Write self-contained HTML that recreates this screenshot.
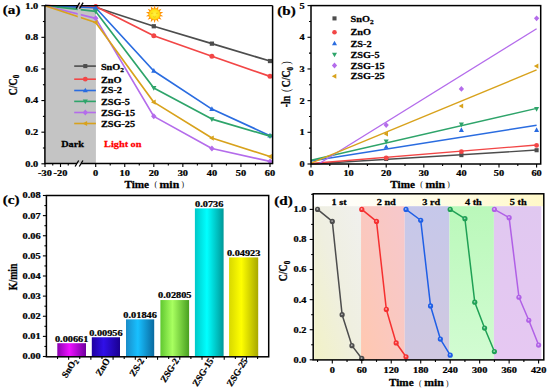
<!DOCTYPE html>
<html><head><meta charset="utf-8"><style>
html,body{margin:0;padding:0;background:#fff;}
svg{display:block;font-family:"Liberation Serif", serif;}
</style></head><body>
<svg width="550" height="391" viewBox="0 0 550 391">
<defs><radialGradient id="sung" cx="0.5" cy="0.5" r="0.5"><stop offset="0" stop-color="#fff04a"/><stop offset="0.7" stop-color="#ffe414"/><stop offset="0.88" stop-color="#ffc814"/><stop offset="1" stop-color="#ffa010"/></radialGradient><linearGradient id="g0" x1="0" x2="1" y1="0" y2="0"><stop offset="0" stop-color="#8a00b0"/><stop offset="0.42" stop-color="#ee10ff"/><stop offset="1" stop-color="#7000a0"/></linearGradient><linearGradient id="g1" x1="0" x2="1" y1="0" y2="0"><stop offset="0" stop-color="#2000a0"/><stop offset="0.42" stop-color="#3010e8"/><stop offset="1" stop-color="#1a0090"/></linearGradient><linearGradient id="g2" x1="0" x2="1" y1="0" y2="0"><stop offset="0" stop-color="#1a8cc8"/><stop offset="0.42" stop-color="#18c0ff"/><stop offset="1" stop-color="#0a6aa0"/></linearGradient><linearGradient id="g3" x1="0" x2="1" y1="0" y2="0"><stop offset="0" stop-color="#60c830"/><stop offset="0.42" stop-color="#a8ff60"/><stop offset="1" stop-color="#48a020"/></linearGradient><linearGradient id="g4" x1="0" x2="1" y1="0" y2="0"><stop offset="0" stop-color="#00c8c8"/><stop offset="0.42" stop-color="#00ffff"/><stop offset="1" stop-color="#009898"/></linearGradient><linearGradient id="g5" x1="0" x2="1" y1="0" y2="0"><stop offset="0" stop-color="#d8d800"/><stop offset="0.42" stop-color="#ffff00"/><stop offset="1" stop-color="#a8a800"/></linearGradient><linearGradient id="r1" x1="1" x2="0" y1="0" y2="1"><stop offset="0" stop-color="#f0f0ee"/><stop offset="0.5" stop-color="#efefe0"/><stop offset="1" stop-color="#f2f2c6"/></linearGradient><linearGradient id="r2" x1="1" x2="0" y1="0" y2="1"><stop offset="0" stop-color="#f6c8cc"/><stop offset="0.5" stop-color="#fac8c0"/><stop offset="1" stop-color="#ffc8b0"/></linearGradient><linearGradient id="r3" x1="0" x2="0" y1="0" y2="1"><stop offset="0" stop-color="#c6c8ea"/><stop offset="1" stop-color="#d0c8e0"/></linearGradient><linearGradient id="r4" x1="0" x2="0" y1="0" y2="1"><stop offset="0" stop-color="#baf8ba"/><stop offset="1" stop-color="#d2fcd2"/></linearGradient><linearGradient id="r5" x1="0" x2="0" y1="0" y2="1"><stop offset="0" stop-color="#e0c8f0"/><stop offset="1" stop-color="#e6c8f2"/></linearGradient><linearGradient id="top" x1="0" x2="1" y1="0" y2="0"><stop offset="0" stop-color="#ffffff"/><stop offset="0.35" stop-color="#fffdf0"/><stop offset="0.7" stop-color="#fffbdc"/><stop offset="1" stop-color="#fff8c8"/></linearGradient><radialGradient id="ball" cx="0.4" cy="0.4" r="0.6"><stop offset="0" stop-color="#fff" stop-opacity="0.85"/><stop offset="1" stop-color="#fff" stop-opacity="0.1"/></radialGradient></defs>
<rect width="550" height="391" fill="#fff"/>
<rect x="44.9" y="5.6" width="51.00000000000001" height="157.9" fill="#c4c4c4"/>
<polyline points="45,5.7 95.7,7.28 153.8,26.25 211.9,43.64 270,61.03" fill="none" stroke="#4d4d4d" stroke-width="1.7" stroke-linejoin="round"/>
<rect x="93.58" y="5.16" width="4.25" height="4.25" fill="#4d4d4d"/>
<rect x="151.68" y="24.13" width="4.25" height="4.25" fill="#4d4d4d"/>
<rect x="209.77" y="41.52" width="4.25" height="4.25" fill="#4d4d4d"/>
<rect x="267.88" y="58.91" width="4.25" height="4.25" fill="#4d4d4d"/>
<polyline points="45,5.7 95.7,6.49 153.8,35.74 211.9,56.29 270,76.37" fill="none" stroke="#f24646" stroke-width="1.7" stroke-linejoin="round"/>
<circle cx="95.7" cy="6.49" r="2.5" fill="#f24646"/>
<circle cx="153.8" cy="35.74" r="2.5" fill="#f24646"/>
<circle cx="211.9" cy="56.29" r="2.5" fill="#f24646"/>
<circle cx="270" cy="76.37" r="2.5" fill="#f24646"/>
<polyline points="45,5.7 95.7,7.76 153.8,71 211.9,109.1 270,135.66" fill="none" stroke="#2a6ce0" stroke-width="1.7" stroke-linejoin="round"/>
<polygon points="95.7,4.88 98.33,9.63 93.08,9.63" fill="#2a6ce0"/>
<polygon points="153.8,68.12 156.43,72.87 151.18,72.87" fill="#2a6ce0"/>
<polygon points="211.9,106.22 214.52,110.97 209.27,110.97" fill="#2a6ce0"/>
<polygon points="270,132.78 272.62,137.53 267.38,137.53" fill="#2a6ce0"/>
<polyline points="45,5.7 95.7,11.39 153.8,87.91 211.9,119.06 270,136.13" fill="none" stroke="#2ea46a" stroke-width="1.7" stroke-linejoin="round"/>
<polygon points="95.7,14.27 98.33,9.52 93.08,9.52" fill="#2ea46a"/>
<polygon points="153.8,90.79 156.43,86.04 151.18,86.04" fill="#2ea46a"/>
<polygon points="211.9,121.93 214.52,117.18 209.27,117.18" fill="#2ea46a"/>
<polygon points="270,139.01 272.62,134.26 267.38,134.26" fill="#2ea46a"/>
<polyline points="45,5.7 95.7,18.35 153.8,116.37 211.9,148.46 270,161.43" fill="none" stroke="#b46ceb" stroke-width="1.7" stroke-linejoin="round"/>
<polygon points="95.7,15.35 98.45,18.35 95.7,21.35 92.95,18.35" fill="#b46ceb"/>
<polygon points="153.8,113.37 156.55,116.37 153.8,119.37 151.05,116.37" fill="#b46ceb"/>
<polygon points="211.9,145.46 214.65,148.46 211.9,151.46 209.15,148.46" fill="#b46ceb"/>
<polygon points="270,158.43 272.75,161.43 270,164.43 267.25,161.43" fill="#b46ceb"/>
<polyline points="45,5.7 95.7,22.46 153.8,102.14 211.9,138.03 270,156.53" fill="none" stroke="#d8a21c" stroke-width="1.7" stroke-linejoin="round"/>
<polygon points="92.83,22.46 97.58,19.83 97.58,25.08" fill="#d8a21c"/>
<polygon points="150.93,102.14 155.68,99.52 155.68,104.77" fill="#d8a21c"/>
<polygon points="209.02,138.03 213.77,135.4 213.77,140.65" fill="#d8a21c"/>
<polygon points="267.12,156.53 271.88,153.9 271.88,159.15" fill="#d8a21c"/>
<polygon points="77.6,6.4 80.6,6.4 80.9,24 77.9,24" fill="#c4c4c4"/>
<line x1="44.9" y1="5.6" x2="78" y2="5.6" stroke="#000" stroke-width="1.3" />
<line x1="81.3" y1="5.6" x2="272.6" y2="5.6" stroke="#000" stroke-width="1.3" />
<line x1="272.6" y1="5.6" x2="272.6" y2="164.2" stroke="#000" stroke-width="1.5" />
<line x1="44.9" y1="4.9" x2="44.9" y2="164.2" stroke="#000" stroke-width="1.5" />
<line x1="44.9" y1="163.5" x2="77" y2="163.5" stroke="#000" stroke-width="1.5" />
<line x1="81" y1="163.5" x2="272.6" y2="163.5" stroke="#000" stroke-width="1.5" />
<line x1="75.1" y1="166.5" x2="78.7" y2="160.5" stroke="#000" stroke-width="1.3" />
<line x1="79.3" y1="166.5" x2="82.9" y2="160.5" stroke="#000" stroke-width="1.3" />
<line x1="76.1" y1="8.6" x2="79.7" y2="2.6" stroke="#000" stroke-width="1.3" />
<line x1="79.5" y1="8.6" x2="83.1" y2="2.6" stroke="#000" stroke-width="1.3" />
<line x1="41.4" y1="163.8" x2="44.9" y2="163.8" stroke="#000" stroke-width="1.1" />
<text transform="translate(38.2,166.7) scale(1.2,1)" font-size="8.6" text-anchor="end" fill="#000" font-weight="bold" stroke="#000" stroke-width="0.25">0.0</text>
<line x1="42.9" y1="147.99" x2="44.9" y2="147.99" stroke="#000" stroke-width="1.1" />
<line x1="41.4" y1="132.18" x2="44.9" y2="132.18" stroke="#000" stroke-width="1.1" />
<text transform="translate(38.2,135.08) scale(1.2,1)" font-size="8.6" text-anchor="end" fill="#000" font-weight="bold" stroke="#000" stroke-width="0.25">0.2</text>
<line x1="42.9" y1="116.37" x2="44.9" y2="116.37" stroke="#000" stroke-width="1.1" />
<line x1="41.4" y1="100.56" x2="44.9" y2="100.56" stroke="#000" stroke-width="1.1" />
<text transform="translate(38.2,103.46) scale(1.2,1)" font-size="8.6" text-anchor="end" fill="#000" font-weight="bold" stroke="#000" stroke-width="0.25">0.4</text>
<line x1="42.9" y1="84.75" x2="44.9" y2="84.75" stroke="#000" stroke-width="1.1" />
<line x1="41.4" y1="68.94" x2="44.9" y2="68.94" stroke="#000" stroke-width="1.1" />
<text transform="translate(38.2,71.84) scale(1.2,1)" font-size="8.6" text-anchor="end" fill="#000" font-weight="bold" stroke="#000" stroke-width="0.25">0.6</text>
<line x1="42.9" y1="53.13" x2="44.9" y2="53.13" stroke="#000" stroke-width="1.1" />
<line x1="41.4" y1="37.32" x2="44.9" y2="37.32" stroke="#000" stroke-width="1.1" />
<text transform="translate(38.2,40.22) scale(1.2,1)" font-size="8.6" text-anchor="end" fill="#000" font-weight="bold" stroke="#000" stroke-width="0.25">0.8</text>
<line x1="42.9" y1="21.51" x2="44.9" y2="21.51" stroke="#000" stroke-width="1.1" />
<line x1="41.4" y1="5.7" x2="44.9" y2="5.7" stroke="#000" stroke-width="1.1" />
<text transform="translate(38.2,8.6) scale(1.2,1)" font-size="8.6" text-anchor="end" fill="#000" font-weight="bold" stroke="#000" stroke-width="0.25">1.0</text>
<line x1="45" y1="163.5" x2="45" y2="167" stroke="#000" stroke-width="1.1" />
<text transform="translate(45,175.8) scale(1.2,1)" font-size="8.6" text-anchor="middle" fill="#000" font-weight="bold" stroke="#000" stroke-width="0.25">-30</text>
<line x1="60.5" y1="163.5" x2="60.5" y2="167" stroke="#000" stroke-width="1.1" />
<text transform="translate(60.5,175.8) scale(1.2,1)" font-size="8.6" text-anchor="middle" fill="#000" font-weight="bold" stroke="#000" stroke-width="0.25">-20</text>
<line x1="95.7" y1="163.5" x2="95.7" y2="167" stroke="#000" stroke-width="1.1" />
<text transform="translate(95.7,175.8) scale(1.2,1)" font-size="8.6" text-anchor="middle" fill="#000" font-weight="bold" stroke="#000" stroke-width="0.25">0</text>
<line x1="124.75" y1="163.5" x2="124.75" y2="167" stroke="#000" stroke-width="1.1" />
<text transform="translate(124.75,175.8) scale(1.2,1)" font-size="8.6" text-anchor="middle" fill="#000" font-weight="bold" stroke="#000" stroke-width="0.25">10</text>
<line x1="153.8" y1="163.5" x2="153.8" y2="167" stroke="#000" stroke-width="1.1" />
<text transform="translate(153.8,175.8) scale(1.2,1)" font-size="8.6" text-anchor="middle" fill="#000" font-weight="bold" stroke="#000" stroke-width="0.25">20</text>
<line x1="182.85" y1="163.5" x2="182.85" y2="167" stroke="#000" stroke-width="1.1" />
<text transform="translate(182.85,175.8) scale(1.2,1)" font-size="8.6" text-anchor="middle" fill="#000" font-weight="bold" stroke="#000" stroke-width="0.25">30</text>
<line x1="211.9" y1="163.5" x2="211.9" y2="167" stroke="#000" stroke-width="1.1" />
<text transform="translate(211.9,175.8) scale(1.2,1)" font-size="8.6" text-anchor="middle" fill="#000" font-weight="bold" stroke="#000" stroke-width="0.25">40</text>
<line x1="240.95" y1="163.5" x2="240.95" y2="167" stroke="#000" stroke-width="1.1" />
<text transform="translate(240.95,175.8) scale(1.2,1)" font-size="8.6" text-anchor="middle" fill="#000" font-weight="bold" stroke="#000" stroke-width="0.25">50</text>
<line x1="270" y1="163.5" x2="270" y2="167" stroke="#000" stroke-width="1.1" />
<text transform="translate(270,175.8) scale(1.2,1)" font-size="8.6" text-anchor="middle" fill="#000" font-weight="bold" stroke="#000" stroke-width="0.25">60</text>
<line x1="52.75" y1="163.5" x2="52.75" y2="165.5" stroke="#000" stroke-width="1.1" />
<line x1="68.25" y1="163.5" x2="68.25" y2="165.5" stroke="#000" stroke-width="1.1" />
<line x1="110.22" y1="163.5" x2="110.22" y2="165.5" stroke="#000" stroke-width="1.1" />
<line x1="139.28" y1="163.5" x2="139.28" y2="165.5" stroke="#000" stroke-width="1.1" />
<line x1="168.32" y1="163.5" x2="168.32" y2="165.5" stroke="#000" stroke-width="1.1" />
<line x1="197.38" y1="163.5" x2="197.38" y2="165.5" stroke="#000" stroke-width="1.1" />
<line x1="226.43" y1="163.5" x2="226.43" y2="165.5" stroke="#000" stroke-width="1.1" />
<line x1="255.47" y1="163.5" x2="255.47" y2="165.5" stroke="#000" stroke-width="1.1" />
<text transform="translate(17,95.2) scale(1.2,1) rotate(-90)" font-size="9.8" text-anchor="start" fill="#000" font-weight="bold" stroke="#000" stroke-width="0.25">C/C<tspan font-size="0.7em" dy="2">0</tspan></text>
<text transform="translate(124.4,188.1) scale(1.19,1)" font-size="9.4" text-anchor="start" fill="#000" font-weight="bold" stroke="#000" stroke-width="0.25">Time</text>
<text transform="translate(154.4,187.3) scale(1.0,1)" font-size="7.6" text-anchor="start" fill="#000" font-weight="normal">(</text>
<text transform="translate(159.6,188.1) scale(1.25,1)" font-size="9.4" text-anchor="start" fill="#000" font-weight="bold" stroke="#000" stroke-width="0.25">min</text>
<text transform="translate(181.4,187.3) scale(1.0,1)" font-size="7.6" text-anchor="start" fill="#000" font-weight="normal">)</text>
<text transform="translate(2.8,13.9) scale(1.12,1)" font-size="13.5" text-anchor="start" fill="#000" font-weight="bold" stroke="#000" stroke-width="0.25">(a)</text>
<text transform="translate(61.2,147.3) scale(1.13,1)" font-size="9.1" text-anchor="start" fill="#000" font-weight="bold" stroke="#000" stroke-width="0.25">Dark</text>
<text transform="translate(104.1,147.3) scale(1.13,1)" font-size="9.1" text-anchor="start" fill="#ff0000" font-weight="bold" stroke="#ff0000" stroke-width="0.25">Light on</text>
<line x1="74.2" y1="66.1" x2="95.9" y2="66.1" stroke="#4d4d4d" stroke-width="1.6" />
<rect x="83.26" y="64.06" width="4.08" height="4.08" fill="#4d4d4d"/>
<text transform="translate(100.9,69.7) scale(1.13,1)" font-size="9.1" text-anchor="start" fill="#000" font-weight="bold" stroke="#000" stroke-width="0.25">SnO<tspan font-size="0.72em" dy="2">2</tspan></text>
<line x1="74.2" y1="79.2" x2="95.9" y2="79.2" stroke="#f24646" stroke-width="1.6" />
<circle cx="85.3" cy="79.2" r="2.4" fill="#f24646"/>
<text transform="translate(100.9,82.6) scale(1.13,1)" font-size="9.1" text-anchor="start" fill="#000" font-weight="bold" stroke="#000" stroke-width="0.25">ZnO</text>
<line x1="74.2" y1="90.5" x2="95.9" y2="90.5" stroke="#2a6ce0" stroke-width="1.6" />
<polygon points="85.3,87.74 87.82,92.3 82.78,92.3" fill="#2a6ce0"/>
<text transform="translate(100.9,93.4) scale(1.13,1)" font-size="9.1" text-anchor="start" fill="#000" font-weight="bold" stroke="#000" stroke-width="0.25">ZS-2</text>
<line x1="74.2" y1="101.4" x2="95.9" y2="101.4" stroke="#2ea46a" stroke-width="1.6" />
<polygon points="85.3,104.16 87.82,99.6 82.78,99.6" fill="#2ea46a"/>
<text transform="translate(100.9,104.5) scale(1.13,1)" font-size="9.1" text-anchor="start" fill="#000" font-weight="bold" stroke="#000" stroke-width="0.25">ZSG-5</text>
<line x1="74.2" y1="112.5" x2="95.9" y2="112.5" stroke="#b46ceb" stroke-width="1.6" />
<polygon points="85.3,109.62 87.94,112.5 85.3,115.38 82.66,112.5" fill="#b46ceb"/>
<text transform="translate(100.9,116) scale(1.13,1)" font-size="9.1" text-anchor="start" fill="#000" font-weight="bold" stroke="#000" stroke-width="0.25">ZSG-15</text>
<line x1="74.2" y1="123.5" x2="95.9" y2="123.5" stroke="#d8a21c" stroke-width="1.6" />
<polygon points="82.54,123.5 87.1,120.98 87.1,126.02" fill="#d8a21c"/>
<text transform="translate(100.9,126.8) scale(1.13,1)" font-size="9.1" text-anchor="start" fill="#000" font-weight="bold" stroke="#000" stroke-width="0.25">ZSG-25</text>
<polygon points="159.59,13.97 163.28,16.18 159,16.57" fill="#ff9000"/>
<polygon points="159.2,16.16 161.56,19.75 157.54,18.25" fill="#ff9000"/>
<polygon points="157.89,17.96 158.46,22.22 155.49,19.12" fill="#ff9000"/>
<polygon points="155.93,19.02 154.6,23.1 153.27,19.02" fill="#ff9000"/>
<polygon points="153.71,19.12 150.74,22.22 151.31,17.96" fill="#ff9000"/>
<polygon points="151.66,18.25 147.64,19.75 150,16.16" fill="#ff9000"/>
<polygon points="150.2,16.57 145.92,16.18 149.61,13.97" fill="#ff9000"/>
<polygon points="149.61,14.43 145.92,12.22 150.2,11.83" fill="#ff9000"/>
<polygon points="150,12.24 147.64,8.65 151.66,10.15" fill="#ff9000"/>
<polygon points="151.31,10.44 150.74,6.18 153.71,9.28" fill="#ff9000"/>
<polygon points="153.27,9.38 154.6,5.3 155.93,9.38" fill="#ff9000"/>
<polygon points="155.49,9.28 158.46,6.18 157.89,10.44" fill="#ff9000"/>
<polygon points="157.54,10.15 161.56,8.65 159.2,12.24" fill="#ff9000"/>
<polygon points="159,11.83 163.28,12.22 159.59,14.43" fill="#ff9000"/>
<circle cx="154.6" cy="14.2" r="5.9" fill="url(#sung)"/>
<path d="M151,13.6 q1.1,-1.2 2.2,0 M156,13.6 q1.1,-1.2 2.2,0 M153.1,16.6 q1.5,1.2 3,0" fill="none" stroke="#e8b010" stroke-width="0.6"/>
<line x1="311" y1="164" x2="536.6" y2="150.06" stroke="#4d4d4d" stroke-width="1.4" />
<line x1="311" y1="163.49" x2="536.6" y2="144.99" stroke="#f24646" stroke-width="1.4" />
<line x1="311" y1="160.99" x2="536.6" y2="125.22" stroke="#2a6ce0" stroke-width="1.4" />
<line x1="311" y1="160.29" x2="536.6" y2="108.34" stroke="#2ea46a" stroke-width="1.4" />
<line x1="318.52" y1="164" x2="536.6" y2="28.73" stroke="#b46ceb" stroke-width="1.4" />
<line x1="311" y1="163.05" x2="536.6" y2="69.91" stroke="#d8a21c" stroke-width="1.4" />
<rect x="384.16" y="156.95" width="4.08" height="4.08" fill="#4d4d4d"/>
<rect x="459.36" y="153.09" width="4.08" height="4.08" fill="#4d4d4d"/>
<rect x="534.56" y="148.18" width="4.08" height="4.08" fill="#4d4d4d"/>
<circle cx="386.2" cy="157.98" r="2.4" fill="#f24646"/>
<circle cx="461.4" cy="151.64" r="2.4" fill="#f24646"/>
<circle cx="536.6" cy="145.4" r="2.4" fill="#f24646"/>
<polygon points="386.2,144.26 388.72,148.82 383.68,148.82" fill="#2a6ce0"/>
<polygon points="461.4,127.34 463.92,131.9 458.88,131.9" fill="#2a6ce0"/>
<polygon points="536.6,127.34 539.12,131.9 534.08,131.9" fill="#2a6ce0"/>
<polygon points="386.2,143.95 388.72,139.39 383.68,139.39" fill="#2ea46a"/>
<polygon points="461.4,127.16 463.92,122.6 458.88,122.6" fill="#2ea46a"/>
<polygon points="536.6,111.64 539.12,107.08 534.08,107.08" fill="#2ea46a"/>
<polygon points="386.2,122.15 388.84,125.03 386.2,127.91 383.56,125.03" fill="#b46ceb"/>
<polygon points="461.4,86.04 464.04,88.92 461.4,91.8 458.76,88.92" fill="#b46ceb"/>
<polygon points="536.6,15.39 539.24,18.27 536.6,21.15 533.96,18.27" fill="#b46ceb"/>
<polygon points="383.44,133.9 388,131.38 388,136.42" fill="#d8a21c"/>
<polygon points="458.64,106.03 463.2,103.51 463.2,108.55" fill="#d8a21c"/>
<polygon points="533.84,66.11 538.4,63.59 538.4,68.63" fill="#d8a21c"/>
<rect x="311" y="5.6" width="229.70000000000005" height="158.4" fill="none" stroke="#000" stroke-width="1.5"/>
<line x1="307.5" y1="164" x2="311" y2="164" stroke="#000" stroke-width="1.1" />
<text transform="translate(304.7,166.9) scale(1.2,1)" font-size="8.6" text-anchor="end" fill="#000" font-weight="bold" stroke="#000" stroke-width="0.25">0</text>
<line x1="309" y1="148.16" x2="311" y2="148.16" stroke="#000" stroke-width="1.1" />
<line x1="307.5" y1="132.32" x2="311" y2="132.32" stroke="#000" stroke-width="1.1" />
<text transform="translate(304.7,135.22) scale(1.2,1)" font-size="8.6" text-anchor="end" fill="#000" font-weight="bold" stroke="#000" stroke-width="0.25">1</text>
<line x1="309" y1="116.48" x2="311" y2="116.48" stroke="#000" stroke-width="1.1" />
<line x1="307.5" y1="100.64" x2="311" y2="100.64" stroke="#000" stroke-width="1.1" />
<text transform="translate(304.7,103.54) scale(1.2,1)" font-size="8.6" text-anchor="end" fill="#000" font-weight="bold" stroke="#000" stroke-width="0.25">2</text>
<line x1="309" y1="84.8" x2="311" y2="84.8" stroke="#000" stroke-width="1.1" />
<line x1="307.5" y1="68.96" x2="311" y2="68.96" stroke="#000" stroke-width="1.1" />
<text transform="translate(304.7,71.86) scale(1.2,1)" font-size="8.6" text-anchor="end" fill="#000" font-weight="bold" stroke="#000" stroke-width="0.25">3</text>
<line x1="309" y1="53.12" x2="311" y2="53.12" stroke="#000" stroke-width="1.1" />
<line x1="307.5" y1="37.28" x2="311" y2="37.28" stroke="#000" stroke-width="1.1" />
<text transform="translate(304.7,40.18) scale(1.2,1)" font-size="8.6" text-anchor="end" fill="#000" font-weight="bold" stroke="#000" stroke-width="0.25">4</text>
<line x1="309" y1="21.44" x2="311" y2="21.44" stroke="#000" stroke-width="1.1" />
<line x1="307.5" y1="5.6" x2="311" y2="5.6" stroke="#000" stroke-width="1.1" />
<text transform="translate(304.7,8.5) scale(1.2,1)" font-size="8.6" text-anchor="end" fill="#000" font-weight="bold" stroke="#000" stroke-width="0.25">5</text>
<line x1="311" y1="164" x2="311" y2="167.5" stroke="#000" stroke-width="1.1" />
<text transform="translate(311,176.2) scale(1.2,1)" font-size="8.6" text-anchor="middle" fill="#000" font-weight="bold" stroke="#000" stroke-width="0.25">0</text>
<line x1="329.8" y1="164" x2="329.8" y2="166" stroke="#000" stroke-width="1.1" />
<line x1="348.6" y1="164" x2="348.6" y2="167.5" stroke="#000" stroke-width="1.1" />
<text transform="translate(348.6,176.2) scale(1.2,1)" font-size="8.6" text-anchor="middle" fill="#000" font-weight="bold" stroke="#000" stroke-width="0.25">10</text>
<line x1="367.4" y1="164" x2="367.4" y2="166" stroke="#000" stroke-width="1.1" />
<line x1="386.2" y1="164" x2="386.2" y2="167.5" stroke="#000" stroke-width="1.1" />
<text transform="translate(386.2,176.2) scale(1.2,1)" font-size="8.6" text-anchor="middle" fill="#000" font-weight="bold" stroke="#000" stroke-width="0.25">20</text>
<line x1="405" y1="164" x2="405" y2="166" stroke="#000" stroke-width="1.1" />
<line x1="423.8" y1="164" x2="423.8" y2="167.5" stroke="#000" stroke-width="1.1" />
<text transform="translate(423.8,176.2) scale(1.2,1)" font-size="8.6" text-anchor="middle" fill="#000" font-weight="bold" stroke="#000" stroke-width="0.25">30</text>
<line x1="442.6" y1="164" x2="442.6" y2="166" stroke="#000" stroke-width="1.1" />
<line x1="461.4" y1="164" x2="461.4" y2="167.5" stroke="#000" stroke-width="1.1" />
<text transform="translate(461.4,176.2) scale(1.2,1)" font-size="8.6" text-anchor="middle" fill="#000" font-weight="bold" stroke="#000" stroke-width="0.25">40</text>
<line x1="480.2" y1="164" x2="480.2" y2="166" stroke="#000" stroke-width="1.1" />
<line x1="499" y1="164" x2="499" y2="167.5" stroke="#000" stroke-width="1.1" />
<text transform="translate(499,176.2) scale(1.2,1)" font-size="8.6" text-anchor="middle" fill="#000" font-weight="bold" stroke="#000" stroke-width="0.25">50</text>
<line x1="517.8" y1="164" x2="517.8" y2="166" stroke="#000" stroke-width="1.1" />
<line x1="536.6" y1="164" x2="536.6" y2="167.5" stroke="#000" stroke-width="1.1" />
<text transform="translate(536.6,176.2) scale(1.2,1)" font-size="8.6" text-anchor="middle" fill="#000" font-weight="bold" stroke="#000" stroke-width="0.25">60</text>
<text transform="translate(290.3,107.3) scale(1.2,1) rotate(-90)" font-size="9.8" text-anchor="start" fill="#000" font-weight="bold" stroke="#000" stroke-width="0.25">-ln<tspan font-weight="normal" stroke-width="0" dx="4">(</tspan><tspan dx="1.3">C/C</tspan><tspan font-size="0.7em" dy="2">0</tspan><tspan font-weight="normal" stroke-width="0" dy="-2" dx="2.6">)</tspan></text>
<text transform="translate(390.3,187.9) scale(1.19,1)" font-size="9.4" text-anchor="start" fill="#000" font-weight="bold" stroke="#000" stroke-width="0.25">Time</text>
<text transform="translate(420.3,187.1) scale(1.0,1)" font-size="7.6" text-anchor="start" fill="#000" font-weight="normal">(</text>
<text transform="translate(425.5,187.9) scale(1.25,1)" font-size="9.4" text-anchor="start" fill="#000" font-weight="bold" stroke="#000" stroke-width="0.25">min</text>
<text transform="translate(447.3,187.1) scale(1.0,1)" font-size="7.6" text-anchor="start" fill="#000" font-weight="normal">)</text>
<text transform="translate(277.3,15.2) scale(1.12,1)" font-size="13.5" text-anchor="start" fill="#000" font-weight="bold" stroke="#000" stroke-width="0.25">(b)</text>
<rect x="332.46" y="16.36" width="4.08" height="4.08" fill="#4d4d4d"/>
<text transform="translate(350.5,22.2) scale(1.13,1)" font-size="9.1" text-anchor="start" fill="#000" font-weight="bold" stroke="#000" stroke-width="0.25">SnO<tspan font-size="0.72em" dy="2">2</tspan></text>
<circle cx="334.5" cy="32.2" r="2.3" fill="#f24646"/>
<text transform="translate(350.5,35.2) scale(1.13,1)" font-size="9.1" text-anchor="start" fill="#000" font-weight="bold" stroke="#000" stroke-width="0.25">ZnO</text>
<polygon points="334.5,40.74 337.02,45.3 331.98,45.3" fill="#2a6ce0"/>
<text transform="translate(350.5,46.5) scale(1.13,1)" font-size="9.1" text-anchor="start" fill="#000" font-weight="bold" stroke="#000" stroke-width="0.25">ZS-2</text>
<polygon points="334.5,57.26 337.02,52.7 331.98,52.7" fill="#2ea46a"/>
<text transform="translate(350.5,57.5) scale(1.13,1)" font-size="9.1" text-anchor="start" fill="#000" font-weight="bold" stroke="#000" stroke-width="0.25">ZSG-5</text>
<polygon points="334.5,62.62 337.14,65.5 334.5,68.38 331.86,65.5" fill="#b46ceb"/>
<text transform="translate(350.5,68.5) scale(1.13,1)" font-size="9.1" text-anchor="start" fill="#000" font-weight="bold" stroke="#000" stroke-width="0.25">ZSG-15</text>
<polygon points="331.74,76.3 336.3,73.78 336.3,78.82" fill="#d8a21c"/>
<text transform="translate(350.5,79.3) scale(1.13,1)" font-size="9.1" text-anchor="start" fill="#000" font-weight="bold" stroke="#000" stroke-width="0.25">ZSG-25</text>
<rect x="57.3" y="343.2" width="28.7" height="13.6" fill="url(#g0)"/>
<text transform="translate(71.65,341.5) scale(1.2,1)" font-size="8.6" text-anchor="middle" fill="#000" font-weight="bold" stroke="#000" stroke-width="0.25">0.00661</text>
<text transform="translate(77.65,360.7) scale(1.0,1) rotate(-58)" font-size="9.3" text-anchor="end" fill="#000" font-weight="bold" stroke="#000" stroke-width="0.25">SnO<tspan font-size="0.72em" dy="2">2</tspan></text>
<rect x="91.8" y="337.26" width="28.2" height="19.54" fill="url(#g1)"/>
<text transform="translate(105.9,335.56) scale(1.2,1)" font-size="8.6" text-anchor="middle" fill="#000" font-weight="bold" stroke="#000" stroke-width="0.25">0.00956</text>
<text transform="translate(110.3,360.7) scale(1.0,1) rotate(-58)" font-size="9.3" text-anchor="end" fill="#000" font-weight="bold" stroke="#000" stroke-width="0.25">ZnO</text>
<rect x="126.0" y="319.35" width="28.2" height="37.45" fill="url(#g2)"/>
<text transform="translate(140.1,317.65) scale(1.2,1)" font-size="8.6" text-anchor="middle" fill="#000" font-weight="bold" stroke="#000" stroke-width="0.25">0.01846</text>
<text transform="translate(144.5,360.7) scale(1.0,1) rotate(-58)" font-size="9.3" text-anchor="end" fill="#000" font-weight="bold" stroke="#000" stroke-width="0.25">ZS-2</text>
<rect x="160.4" y="300.05" width="28.7" height="56.75" fill="url(#g3)"/>
<text transform="translate(174.75,298.35) scale(1.2,1)" font-size="8.6" text-anchor="middle" fill="#000" font-weight="bold" stroke="#000" stroke-width="0.25">0.02805</text>
<text transform="translate(179.15,360.7) scale(1.0,1) rotate(-58)" font-size="9.3" text-anchor="end" fill="#000" font-weight="bold" stroke="#000" stroke-width="0.25">ZSG-2</text>
<rect x="194.9" y="208.38" width="28.7" height="148.42" fill="url(#g4)"/>
<text transform="translate(209.25,206.68) scale(1.2,1)" font-size="8.6" text-anchor="middle" fill="#000" font-weight="bold" stroke="#000" stroke-width="0.25">0.0736</text>
<text transform="translate(213.65,360.7) scale(1.0,1) rotate(-58)" font-size="9.3" text-anchor="end" fill="#000" font-weight="bold" stroke="#000" stroke-width="0.25">ZSG-15</text>
<rect x="229.1" y="257.42" width="29.1" height="99.38" fill="url(#g5)"/>
<text transform="translate(243.65,255.72) scale(1.2,1)" font-size="8.6" text-anchor="middle" fill="#000" font-weight="bold" stroke="#000" stroke-width="0.25">0.04923</text>
<text transform="translate(248.05,360.7) scale(1.0,1) rotate(-58)" font-size="9.3" text-anchor="end" fill="#000" font-weight="bold" stroke="#000" stroke-width="0.25">ZSG-25</text>
<rect x="46.4" y="195.5" width="222.29999999999998" height="161.3" fill="none" stroke="#000" stroke-width="1.5"/>
<line x1="42.9" y1="356.5" x2="46.4" y2="356.5" stroke="#000" stroke-width="1.1" />
<text transform="translate(40.6,359.4) scale(1.2,1)" font-size="8.6" text-anchor="end" fill="#000" font-weight="bold" stroke="#000" stroke-width="0.25">0.00</text>
<line x1="44.4" y1="346.44" x2="46.4" y2="346.44" stroke="#000" stroke-width="1.1" />
<line x1="42.9" y1="336.38" x2="46.4" y2="336.38" stroke="#000" stroke-width="1.1" />
<text transform="translate(40.6,339.27) scale(1.2,1)" font-size="8.6" text-anchor="end" fill="#000" font-weight="bold" stroke="#000" stroke-width="0.25">0.01</text>
<line x1="44.4" y1="326.31" x2="46.4" y2="326.31" stroke="#000" stroke-width="1.1" />
<line x1="42.9" y1="316.25" x2="46.4" y2="316.25" stroke="#000" stroke-width="1.1" />
<text transform="translate(40.6,319.15) scale(1.2,1)" font-size="8.6" text-anchor="end" fill="#000" font-weight="bold" stroke="#000" stroke-width="0.25">0.02</text>
<line x1="44.4" y1="306.19" x2="46.4" y2="306.19" stroke="#000" stroke-width="1.1" />
<line x1="42.9" y1="296.12" x2="46.4" y2="296.12" stroke="#000" stroke-width="1.1" />
<text transform="translate(40.6,299.02) scale(1.2,1)" font-size="8.6" text-anchor="end" fill="#000" font-weight="bold" stroke="#000" stroke-width="0.25">0.03</text>
<line x1="44.4" y1="286.06" x2="46.4" y2="286.06" stroke="#000" stroke-width="1.1" />
<line x1="42.9" y1="276" x2="46.4" y2="276" stroke="#000" stroke-width="1.1" />
<text transform="translate(40.6,278.9) scale(1.2,1)" font-size="8.6" text-anchor="end" fill="#000" font-weight="bold" stroke="#000" stroke-width="0.25">0.04</text>
<line x1="44.4" y1="265.94" x2="46.4" y2="265.94" stroke="#000" stroke-width="1.1" />
<line x1="42.9" y1="255.88" x2="46.4" y2="255.88" stroke="#000" stroke-width="1.1" />
<text transform="translate(40.6,258.77) scale(1.2,1)" font-size="8.6" text-anchor="end" fill="#000" font-weight="bold" stroke="#000" stroke-width="0.25">0.05</text>
<line x1="44.4" y1="245.81" x2="46.4" y2="245.81" stroke="#000" stroke-width="1.1" />
<line x1="42.9" y1="235.75" x2="46.4" y2="235.75" stroke="#000" stroke-width="1.1" />
<text transform="translate(40.6,238.65) scale(1.2,1)" font-size="8.6" text-anchor="end" fill="#000" font-weight="bold" stroke="#000" stroke-width="0.25">0.06</text>
<line x1="44.4" y1="225.69" x2="46.4" y2="225.69" stroke="#000" stroke-width="1.1" />
<line x1="42.9" y1="215.62" x2="46.4" y2="215.62" stroke="#000" stroke-width="1.1" />
<text transform="translate(40.6,218.53) scale(1.2,1)" font-size="8.6" text-anchor="end" fill="#000" font-weight="bold" stroke="#000" stroke-width="0.25">0.07</text>
<line x1="44.4" y1="205.56" x2="46.4" y2="205.56" stroke="#000" stroke-width="1.1" />
<line x1="42.9" y1="195.5" x2="46.4" y2="195.5" stroke="#000" stroke-width="1.1" />
<text transform="translate(40.6,198.4) scale(1.2,1)" font-size="8.6" text-anchor="end" fill="#000" font-weight="bold" stroke="#000" stroke-width="0.25">0.08</text>
<line x1="57.52" y1="356.8" x2="57.52" y2="359" stroke="#000" stroke-width="1.1" />
<line x1="68.63" y1="356.8" x2="68.63" y2="359.8" stroke="#000" stroke-width="1.1" />
<line x1="79.75" y1="356.8" x2="79.75" y2="359" stroke="#000" stroke-width="1.1" />
<line x1="90.86" y1="356.8" x2="90.86" y2="359.8" stroke="#000" stroke-width="1.1" />
<line x1="101.97" y1="356.8" x2="101.97" y2="359" stroke="#000" stroke-width="1.1" />
<line x1="113.09" y1="356.8" x2="113.09" y2="359.8" stroke="#000" stroke-width="1.1" />
<line x1="124.2" y1="356.8" x2="124.2" y2="359" stroke="#000" stroke-width="1.1" />
<line x1="135.32" y1="356.8" x2="135.32" y2="359.8" stroke="#000" stroke-width="1.1" />
<line x1="146.44" y1="356.8" x2="146.44" y2="359" stroke="#000" stroke-width="1.1" />
<line x1="157.55" y1="356.8" x2="157.55" y2="359.8" stroke="#000" stroke-width="1.1" />
<line x1="168.66" y1="356.8" x2="168.66" y2="359" stroke="#000" stroke-width="1.1" />
<line x1="179.78" y1="356.8" x2="179.78" y2="359.8" stroke="#000" stroke-width="1.1" />
<line x1="190.89" y1="356.8" x2="190.89" y2="359" stroke="#000" stroke-width="1.1" />
<line x1="202.01" y1="356.8" x2="202.01" y2="359.8" stroke="#000" stroke-width="1.1" />
<line x1="213.12" y1="356.8" x2="213.12" y2="359" stroke="#000" stroke-width="1.1" />
<line x1="224.24" y1="356.8" x2="224.24" y2="359.8" stroke="#000" stroke-width="1.1" />
<line x1="235.35" y1="356.8" x2="235.35" y2="359" stroke="#000" stroke-width="1.1" />
<line x1="246.47" y1="356.8" x2="246.47" y2="359.8" stroke="#000" stroke-width="1.1" />
<line x1="257.58" y1="356.8" x2="257.58" y2="359" stroke="#000" stroke-width="1.1" />
<text transform="translate(16.6,290.2) scale(1.2,1) rotate(-90)" font-size="9.8" text-anchor="start" fill="#000" font-weight="bold" stroke="#000" stroke-width="0.25">K/min</text>
<text transform="translate(2.8,203.8) scale(1.12,1)" font-size="13.5" text-anchor="start" fill="#000" font-weight="bold" stroke="#000" stroke-width="0.25">(c)</text>
<rect x="313.2" y="193.8" width="230.59999999999997" height="12.399999999999977" fill="url(#top)"/>
<rect x="314.2" y="206.2" width="46.84" height="153.7" fill="url(#r1)"/>
<rect x="361.04" y="206.2" width="43.72" height="153.7" fill="url(#r2)"/>
<rect x="404.75" y="206.2" width="44.7" height="153.7" fill="url(#r3)"/>
<rect x="449.45" y="206.2" width="44.45" height="153.7" fill="url(#r4)"/>
<rect x="493.9" y="206.2" width="47.4" height="153.7" fill="url(#r5)"/>
<polyline points="317.56,209.4 332.3,221.43 342.12,314.68 351.95,345.66 361.77,358.45" fill="none" stroke="#4d4d4d" stroke-width="1.5" stroke-linejoin="round"/>
<circle cx="317.56" cy="209.4" r="2.6" fill="#4d4d4d"/><circle cx="317.36" cy="209" r="0.9" fill="#fff" fill-opacity="0.55"/>
<circle cx="332.3" cy="221.43" r="2.6" fill="#4d4d4d"/><circle cx="332.1" cy="221.03" r="0.9" fill="#fff" fill-opacity="0.55"/>
<circle cx="342.12" cy="314.68" r="2.6" fill="#4d4d4d"/><circle cx="341.92" cy="314.28" r="0.9" fill="#fff" fill-opacity="0.55"/>
<circle cx="351.95" cy="345.66" r="2.6" fill="#4d4d4d"/><circle cx="351.75" cy="345.26" r="0.9" fill="#fff" fill-opacity="0.55"/>
<circle cx="361.77" cy="358.45" r="2.6" fill="#4d4d4d"/><circle cx="361.57" cy="358.05" r="0.9" fill="#fff" fill-opacity="0.55"/>
<polyline points="361.77,209.4 376.51,221.43 386.33,309.42 396.16,342.96 405.98,356.79" fill="none" stroke="#f53030" stroke-width="1.5" stroke-linejoin="round"/>
<circle cx="361.77" cy="209.4" r="2.6" fill="#f53030"/><circle cx="361.57" cy="209" r="0.9" fill="#fff" fill-opacity="0.55"/>
<circle cx="376.51" cy="221.43" r="2.6" fill="#f53030"/><circle cx="376.31" cy="221.03" r="0.9" fill="#fff" fill-opacity="0.55"/>
<circle cx="386.33" cy="309.42" r="2.6" fill="#f53030"/><circle cx="386.13" cy="309.02" r="0.9" fill="#fff" fill-opacity="0.55"/>
<circle cx="396.16" cy="342.96" r="2.6" fill="#f53030"/><circle cx="395.96" cy="342.56" r="0.9" fill="#fff" fill-opacity="0.55"/>
<circle cx="405.98" cy="356.79" r="2.6" fill="#f53030"/><circle cx="405.78" cy="356.39" r="0.9" fill="#fff" fill-opacity="0.55"/>
<polyline points="405.98,209.4 420.72,220.23 430.54,305.96 440.36,339.04 450.19,355.14" fill="none" stroke="#1f5fe6" stroke-width="1.5" stroke-linejoin="round"/>
<circle cx="405.98" cy="209.4" r="2.6" fill="#1f5fe6"/><circle cx="405.78" cy="209" r="0.9" fill="#fff" fill-opacity="0.55"/>
<circle cx="420.72" cy="220.23" r="2.6" fill="#1f5fe6"/><circle cx="420.52" cy="219.83" r="0.9" fill="#fff" fill-opacity="0.55"/>
<circle cx="430.54" cy="305.96" r="2.6" fill="#1f5fe6"/><circle cx="430.34" cy="305.56" r="0.9" fill="#fff" fill-opacity="0.55"/>
<circle cx="440.36" cy="339.04" r="2.6" fill="#1f5fe6"/><circle cx="440.16" cy="338.64" r="0.9" fill="#fff" fill-opacity="0.55"/>
<circle cx="450.19" cy="355.14" r="2.6" fill="#1f5fe6"/><circle cx="449.99" cy="354.74" r="0.9" fill="#fff" fill-opacity="0.55"/>
<polyline points="450.19,209.4 464.92,218.72 474.75,302.2 484.57,328.07 494.4,351.53" fill="none" stroke="#1fa055" stroke-width="1.5" stroke-linejoin="round"/>
<circle cx="450.19" cy="209.4" r="2.6" fill="#1fa055"/><circle cx="449.99" cy="209" r="0.9" fill="#fff" fill-opacity="0.55"/>
<circle cx="464.92" cy="218.72" r="2.6" fill="#1fa055"/><circle cx="464.72" cy="218.32" r="0.9" fill="#fff" fill-opacity="0.55"/>
<circle cx="474.75" cy="302.2" r="2.6" fill="#1fa055"/><circle cx="474.55" cy="301.8" r="0.9" fill="#fff" fill-opacity="0.55"/>
<circle cx="484.57" cy="328.07" r="2.6" fill="#1fa055"/><circle cx="484.37" cy="327.67" r="0.9" fill="#fff" fill-opacity="0.55"/>
<circle cx="494.4" cy="351.53" r="2.6" fill="#1fa055"/><circle cx="494.2" cy="351.13" r="0.9" fill="#fff" fill-opacity="0.55"/>
<polyline points="494.4,209.4 509.13,217.67 518.96,297.23 528.78,320.24 538.6,345.06" fill="none" stroke="#b060e6" stroke-width="1.5" stroke-linejoin="round"/>
<circle cx="494.4" cy="209.4" r="2.6" fill="#b060e6"/><circle cx="494.2" cy="209" r="0.9" fill="#fff" fill-opacity="0.55"/>
<circle cx="509.13" cy="217.67" r="2.6" fill="#b060e6"/><circle cx="508.93" cy="217.27" r="0.9" fill="#fff" fill-opacity="0.55"/>
<circle cx="518.96" cy="297.23" r="2.6" fill="#b060e6"/><circle cx="518.76" cy="296.83" r="0.9" fill="#fff" fill-opacity="0.55"/>
<circle cx="528.78" cy="320.24" r="2.6" fill="#b060e6"/><circle cx="528.58" cy="319.84" r="0.9" fill="#fff" fill-opacity="0.55"/>
<circle cx="538.6" cy="345.06" r="2.6" fill="#b060e6"/><circle cx="538.4" cy="344.66" r="0.9" fill="#fff" fill-opacity="0.55"/>
<rect x="313.2" y="193.8" width="230.59999999999997" height="166.09999999999997" fill="none" stroke="#000" stroke-width="1.5"/>
<line x1="309.7" y1="359.8" x2="313.2" y2="359.8" stroke="#000" stroke-width="1.1" />
<text transform="translate(306.5,362.7) scale(1.2,1)" font-size="8.6" text-anchor="end" fill="#000" font-weight="bold" stroke="#000" stroke-width="0.25">0.0</text>
<line x1="311.2" y1="344.76" x2="313.2" y2="344.76" stroke="#000" stroke-width="1.1" />
<line x1="309.7" y1="329.72" x2="313.2" y2="329.72" stroke="#000" stroke-width="1.1" />
<text transform="translate(306.5,332.62) scale(1.2,1)" font-size="8.6" text-anchor="end" fill="#000" font-weight="bold" stroke="#000" stroke-width="0.25">0.2</text>
<line x1="311.2" y1="314.68" x2="313.2" y2="314.68" stroke="#000" stroke-width="1.1" />
<line x1="309.7" y1="299.64" x2="313.2" y2="299.64" stroke="#000" stroke-width="1.1" />
<text transform="translate(306.5,302.54) scale(1.2,1)" font-size="8.6" text-anchor="end" fill="#000" font-weight="bold" stroke="#000" stroke-width="0.25">0.4</text>
<line x1="311.2" y1="284.6" x2="313.2" y2="284.6" stroke="#000" stroke-width="1.1" />
<line x1="309.7" y1="269.56" x2="313.2" y2="269.56" stroke="#000" stroke-width="1.1" />
<text transform="translate(306.5,272.46) scale(1.2,1)" font-size="8.6" text-anchor="end" fill="#000" font-weight="bold" stroke="#000" stroke-width="0.25">0.6</text>
<line x1="311.2" y1="254.52" x2="313.2" y2="254.52" stroke="#000" stroke-width="1.1" />
<line x1="309.7" y1="239.48" x2="313.2" y2="239.48" stroke="#000" stroke-width="1.1" />
<text transform="translate(306.5,242.38) scale(1.2,1)" font-size="8.6" text-anchor="end" fill="#000" font-weight="bold" stroke="#000" stroke-width="0.25">0.8</text>
<line x1="311.2" y1="224.44" x2="313.2" y2="224.44" stroke="#000" stroke-width="1.1" />
<line x1="309.7" y1="209.4" x2="313.2" y2="209.4" stroke="#000" stroke-width="1.1" />
<text transform="translate(306.5,212.3) scale(1.2,1)" font-size="8.6" text-anchor="end" fill="#000" font-weight="bold" stroke="#000" stroke-width="0.25">1.0</text>
<line x1="311.2" y1="194.36" x2="313.2" y2="194.36" stroke="#000" stroke-width="1.1" />
<line x1="317.56" y1="359.9" x2="317.56" y2="361.9" stroke="#000" stroke-width="1.1" />
<line x1="332.3" y1="359.9" x2="332.3" y2="363.4" stroke="#000" stroke-width="1.1" />
<text transform="translate(332.3,373.2) scale(1.2,1)" font-size="8.6" text-anchor="middle" fill="#000" font-weight="bold" stroke="#000" stroke-width="0.25">0</text>
<line x1="347.04" y1="359.9" x2="347.04" y2="361.9" stroke="#000" stroke-width="1.1" />
<line x1="361.77" y1="359.9" x2="361.77" y2="363.4" stroke="#000" stroke-width="1.1" />
<text transform="translate(361.77,373.2) scale(1.2,1)" font-size="8.6" text-anchor="middle" fill="#000" font-weight="bold" stroke="#000" stroke-width="0.25">60</text>
<line x1="376.51" y1="359.9" x2="376.51" y2="361.9" stroke="#000" stroke-width="1.1" />
<line x1="391.24" y1="359.9" x2="391.24" y2="363.4" stroke="#000" stroke-width="1.1" />
<text transform="translate(391.24,373.2) scale(1.2,1)" font-size="8.6" text-anchor="middle" fill="#000" font-weight="bold" stroke="#000" stroke-width="0.25">120</text>
<line x1="405.98" y1="359.9" x2="405.98" y2="361.9" stroke="#000" stroke-width="1.1" />
<line x1="420.72" y1="359.9" x2="420.72" y2="363.4" stroke="#000" stroke-width="1.1" />
<text transform="translate(420.72,373.2) scale(1.2,1)" font-size="8.6" text-anchor="middle" fill="#000" font-weight="bold" stroke="#000" stroke-width="0.25">180</text>
<line x1="435.45" y1="359.9" x2="435.45" y2="361.9" stroke="#000" stroke-width="1.1" />
<line x1="450.19" y1="359.9" x2="450.19" y2="363.4" stroke="#000" stroke-width="1.1" />
<text transform="translate(450.19,373.2) scale(1.2,1)" font-size="8.6" text-anchor="middle" fill="#000" font-weight="bold" stroke="#000" stroke-width="0.25">240</text>
<line x1="464.92" y1="359.9" x2="464.92" y2="361.9" stroke="#000" stroke-width="1.1" />
<line x1="479.66" y1="359.9" x2="479.66" y2="363.4" stroke="#000" stroke-width="1.1" />
<text transform="translate(479.66,373.2) scale(1.2,1)" font-size="8.6" text-anchor="middle" fill="#000" font-weight="bold" stroke="#000" stroke-width="0.25">300</text>
<line x1="494.4" y1="359.9" x2="494.4" y2="361.9" stroke="#000" stroke-width="1.1" />
<line x1="509.13" y1="359.9" x2="509.13" y2="363.4" stroke="#000" stroke-width="1.1" />
<text transform="translate(509.13,373.2) scale(1.2,1)" font-size="8.6" text-anchor="middle" fill="#000" font-weight="bold" stroke="#000" stroke-width="0.25">360</text>
<line x1="523.87" y1="359.9" x2="523.87" y2="361.9" stroke="#000" stroke-width="1.1" />
<line x1="538.6" y1="359.9" x2="538.6" y2="363.4" stroke="#000" stroke-width="1.1" />
<text transform="translate(538.6,373.2) scale(1.2,1)" font-size="8.6" text-anchor="middle" fill="#000" font-weight="bold" stroke="#000" stroke-width="0.25">420</text>
<text transform="translate(331.6,205.4) scale(1.13,1)" font-size="9.1" text-anchor="start" fill="#000" font-weight="bold" stroke="#000" stroke-width="0.25">1 st</text>
<text transform="translate(376.7,205.4) scale(1.13,1)" font-size="9.1" text-anchor="start" fill="#000" font-weight="bold" stroke="#000" stroke-width="0.25">2 nd</text>
<text transform="translate(422.3,205.4) scale(1.13,1)" font-size="9.1" text-anchor="start" fill="#000" font-weight="bold" stroke="#000" stroke-width="0.25">3 rd</text>
<text transform="translate(465,205.4) scale(1.13,1)" font-size="9.1" text-anchor="start" fill="#000" font-weight="bold" stroke="#000" stroke-width="0.25">4 th</text>
<text transform="translate(509.8,205.4) scale(1.13,1)" font-size="9.1" text-anchor="start" fill="#000" font-weight="bold" stroke="#000" stroke-width="0.25">5 th</text>
<text transform="translate(287.3,281.2) scale(1.2,1) rotate(-90)" font-size="9.8" text-anchor="start" fill="#000" font-weight="bold" stroke="#000" stroke-width="0.25">C/C<tspan font-size="0.7em" dy="2">0</tspan></text>
<text transform="translate(389,386.3) scale(1.19,1)" font-size="9.4" text-anchor="start" fill="#000" font-weight="bold" stroke="#000" stroke-width="0.25">Time</text>
<text transform="translate(419,385.5) scale(1.0,1)" font-size="7.6" text-anchor="start" fill="#000" font-weight="normal">(</text>
<text transform="translate(424.2,386.3) scale(1.25,1)" font-size="9.4" text-anchor="start" fill="#000" font-weight="bold" stroke="#000" stroke-width="0.25">min</text>
<text transform="translate(446,385.5) scale(1.0,1)" font-size="7.6" text-anchor="start" fill="#000" font-weight="normal">)</text>
<text transform="translate(274.2,204.5) scale(1.12,1)" font-size="13.5" text-anchor="start" fill="#000" font-weight="bold" stroke="#000" stroke-width="0.25">(d)</text>
</svg></body></html>
